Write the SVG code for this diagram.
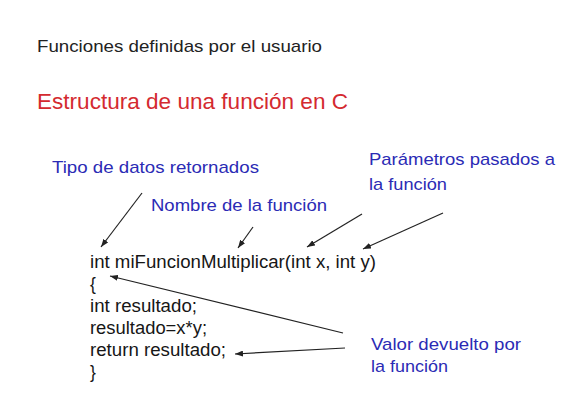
<svg xmlns="http://www.w3.org/2000/svg" width="582" height="418" viewBox="0 0 582 418">
<defs>
<style>
text{font-family:"Liberation Sans",Arial,sans-serif;}
.title{font-size:17px;fill:#222;}
.red{font-size:22px;fill:#d42a30;}
.blue{font-size:17px;fill:#2b2bb5;}
.code{font-size:17.5px;fill:#161616;}
.conn line{stroke:#222;stroke-width:1.2;fill:none;marker-end:url(#ah);}
</style>
<marker id="ah" markerUnits="userSpaceOnUse" markerWidth="9" markerHeight="6" refX="8" refY="3" orient="auto">
<path d="M0,0 L8,3 L0,6 z" fill="#222"/>
</marker>
</defs>
<rect width="582" height="418" fill="#fff"/>
<g id="titulo"><text class="title" x="37" y="52" textLength="285" lengthAdjust="spacingAndGlyphs">Funciones definidas por el usuario</text></g>
<g id="subtitulo"><text class="red" x="37" y="109" textLength="311" lengthAdjust="spacingAndGlyphs">Estructura de una función en C</text></g>
<g id="tipo"><text class="blue" x="52" y="173" textLength="207" lengthAdjust="spacingAndGlyphs">Tipo de datos retornados</text></g>
<g id="nombre"><text class="blue" x="151" y="211" textLength="176" lengthAdjust="spacingAndGlyphs">Nombre de la función</text></g>
<g id="parametros"><text class="blue" x="369" y="165" textLength="186" lengthAdjust="spacingAndGlyphs">Parámetros pasados a</text><text class="blue" x="369" y="190" textLength="78" lengthAdjust="spacingAndGlyphs">la función</text></g>
<g id="valor"><text class="blue" x="371" y="350" textLength="150" lengthAdjust="spacingAndGlyphs">Valor devuelto por</text><text class="blue" x="371" y="372" textLength="77" lengthAdjust="spacingAndGlyphs">la función</text></g>
<g id="codigo">
<text class="code" x="90" y="268" textLength="286" lengthAdjust="spacingAndGlyphs">int miFuncionMultiplicar(int x, int y)</text>
<text class="code" x="90" y="290">{</text>
<text class="code" x="90" y="312" textLength="107" lengthAdjust="spacingAndGlyphs">int resultado;</text>
<text class="code" x="90" y="334" textLength="117" lengthAdjust="spacingAndGlyphs">resultado=x*y;</text>
<text class="code" x="90" y="356" textLength="136" lengthAdjust="spacingAndGlyphs">return resultado;</text>
<text class="code" x="90" y="378">}</text>
</g>
<g id="conectores" class="conn">
<line x1="142" y1="193" x2="101" y2="247"/>
<line x1="253" y1="227" x2="238" y2="248"/>
<line x1="362" y1="214" x2="307" y2="247"/>
<line x1="443" y1="213" x2="363" y2="249"/>
<line x1="343" y1="333" x2="110" y2="276"/>
<line x1="345" y1="348" x2="235" y2="354"/>
</g>
</svg>
